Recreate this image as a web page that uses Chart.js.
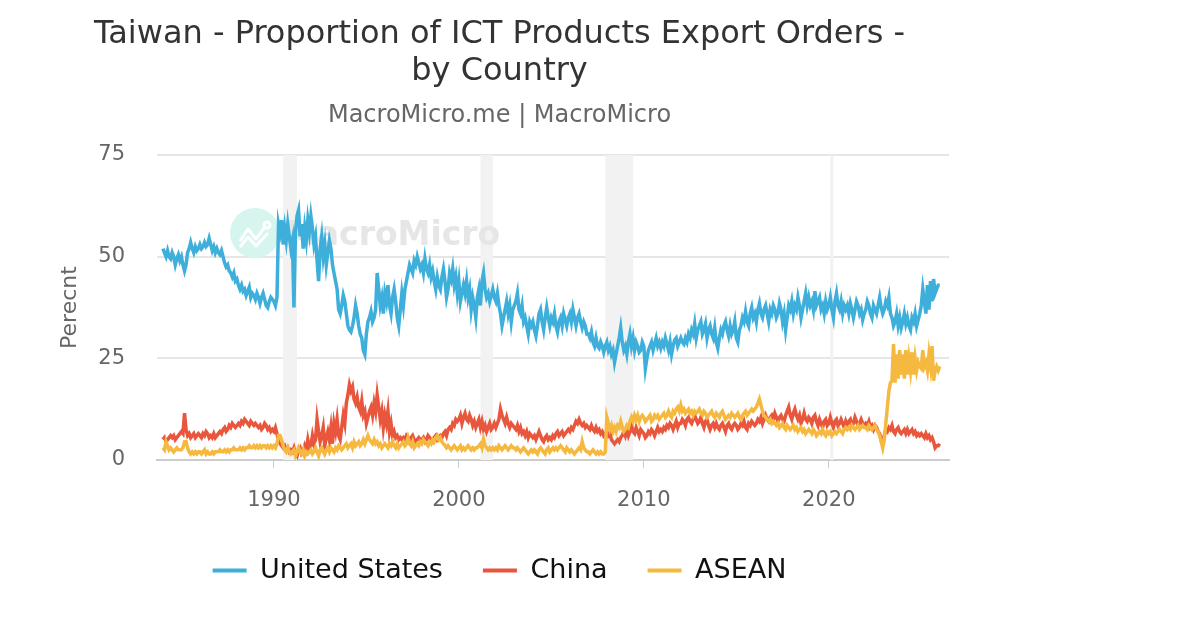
<!DOCTYPE html>
<html>
<head>
<meta charset="utf-8">
<script src="https://cdn.jsdelivr.net/npm/chart.js@4.4.1/dist/chart.umd.min.js"></script>
<style>
  html, body { margin: 0; padding: 0; background: #fff; }
  #wrap { width: 1000px; height: 630px; }
</style>
</head>
<body>
<div id="wrap"><canvas id="chart" width="1000" height="630"></canvas></div>
<script>
// monthly data, Jan 1984 .. Jan 2026 (one row per year)
const startYear = 1984;

const unitedStates = [
  52, 51, 50, 51.5, 50, 49.5, 51, 50, 48, 49.5, 50.5, 49,
  50, 48, 46.5, 48, 51, 52, 53.5, 52, 51, 52.5, 51.5, 52,
  53, 52, 52.5, 53.5, 52.5, 53, 54.5, 53, 51.5, 52.5, 51, 52,
  51, 50.5, 51.5, 50, 48.5, 47.5, 48, 46.5, 46, 45, 46, 44,
  44.5, 43, 42, 43, 41.5, 42, 40.5, 41.5, 42.5, 40, 41, 40.5,
  39.5, 41, 40, 38.5, 40, 41, 39.5, 38, 37.5, 39, 40, 39.5,
  39, 38, 40, 58, 56, 59, 53, 57, 54, 58, 55, 52,
  54, 37.5, 56, 60, 61.5, 55, 58, 52, 57, 54, 59, 56,
  60, 57, 53, 55, 49, 44, 52, 55, 50, 53, 48, 51,
  54, 52, 48, 46, 44, 42, 37, 36, 38, 40.5, 39, 36,
  33, 32, 31.5, 33, 35, 38, 36, 33, 31, 30, 27, 26,
  31, 34, 35, 36.5, 34, 35, 37, 46, 42, 38, 40, 36,
  41, 39, 43, 38, 36, 40, 42, 39, 35, 33, 37, 41,
  38, 42, 44, 46, 48, 47, 46, 49, 48, 50, 48.5, 47,
  48, 46, 49.5, 47, 46, 48, 45, 46.5, 44, 42, 45, 43,
  42, 45, 47, 44, 40, 42, 46, 44.5, 47, 43, 45, 41,
  44, 39, 41, 43, 41, 44, 40, 42, 37, 40, 38, 35,
  40, 42, 38, 44, 46, 42, 40, 41, 39, 40.5, 42, 40,
  39, 41, 38, 36, 33, 35, 37, 39, 36, 38, 34, 37,
  38, 39, 41, 37, 36, 38, 34, 35, 33, 31, 34, 33,
  34, 32, 30.5, 33, 36, 37, 34, 32, 35, 37.5, 35, 33,
  35, 34, 36, 33, 31.5, 34, 35, 33, 36, 34.5, 33, 35,
  36, 34, 37, 35, 33, 35, 36, 34, 32.5, 34, 33, 31,
  31, 30, 31.5, 29, 28, 30, 28, 27.5, 29, 28, 26.5, 28,
  29, 27, 28, 26, 27, 24, 26, 28, 30, 32.5, 29, 27,
  28, 26, 29, 31, 28, 30, 27, 29, 28, 26.5, 27, 29,
  28, 22.5, 25, 27, 28, 29, 27, 28.5, 30, 28, 29, 27.5,
  29, 28, 30, 28.5, 27, 29, 26, 28, 29.5, 30, 28, 29,
  30, 29, 28.5, 30, 29, 31, 30, 32, 31, 33.5, 30, 32,
  33, 34, 31, 32, 33.5, 30, 32, 33, 31, 30, 32.5, 29,
  27.5, 30, 32, 31, 33, 34, 32, 30.5, 33, 31, 32, 34,
  30, 29, 32, 33, 35, 34, 36.5, 34, 33, 36, 37.5, 35,
  36, 34, 37, 38.5, 36, 35, 37, 38, 36, 34, 37, 36,
  38, 37, 35, 36, 38.5, 37, 34, 36, 32, 35, 38, 37,
  39, 36, 38, 37, 40, 38, 35, 37, 39, 41, 38, 40,
  38, 39, 37, 41.5, 38, 39, 40, 37, 38, 36, 39, 37,
  38, 40, 37, 35, 39, 41, 38, 37, 39, 36, 38, 37,
  38, 36, 38.5, 37, 35, 37, 39, 38, 36, 37, 34.5, 36,
  37, 39, 38, 36, 35, 38, 37, 36, 38, 40, 37.5, 36,
  37, 39, 38, 40, 36, 35, 33, 34, 36, 33, 35, 32.5,
  34, 36, 33.5, 35, 33, 32, 35, 34, 36, 33, 34.5, 36,
  38, 42, 39, 36, 43, 37, 44, 39, 44.5, 41, 42, 43,
  43
];

const china = [
  5, 5.5, 4.5, 5, 5.5, 6, 5.5, 6, 5, 5.5, 6, 6.5,
  7, 6.5, 11.5, 7.5, 6, 6.5, 5.5, 6, 6.5, 5.5, 6, 6.5,
  6, 5.5, 6.5, 6, 7, 6.5, 5.5, 6, 5.5, 6.5, 5.5, 6,
  6.5, 7, 6.5, 7.5, 8, 7, 7.5, 8.5, 8, 9, 8.5, 8,
  8.5, 9, 8.5, 9.5, 9, 10, 9.5, 9, 8.5, 9.5, 9, 8.5,
  9, 8.5, 8, 8.5, 7.5, 8, 9, 8.5, 7.5, 8, 7, 7.5,
  7, 8, 6.5, 4.5, 4, 3.5, 3, 3.5, 2.5, 3, 2, 2.5,
  2, 3, 1.5, 1, 2.5, 3, 1.5, 2, 3.5, 2.5, 5, 3,
  3.5, 6, 4, 5, 10, 7, 4.5, 6, 8, 3.5, 5.5, 7,
  5, 8, 4, 9, 7, 10, 6, 5, 8, 11, 9, 14,
  16, 18.5, 17, 18, 15, 14, 15.5, 13, 12, 14.5, 11, 12,
  9, 10.5, 12, 13, 11, 14, 12, 16, 13, 10, 12, 8,
  11, 9, 12, 7, 9, 6, 7, 5.5, 6, 5, 5.5, 5,
  5.5, 5, 6, 5.5, 4.5, 5.5, 6, 5, 4.5, 5, 5.5, 5,
  5, 5.5, 4.5, 5, 6, 5.5, 5, 4.5, 5.5, 6, 5, 5.5,
  6, 5.5, 6.5, 7, 6, 7.5, 8, 7.5, 9, 8.5, 10, 9.5,
  10, 11, 9, 10.5, 11.5, 10, 9.5, 11, 10, 8.5, 9.5, 8,
  9, 10, 8, 9.5, 7.5, 8.5, 7, 8, 9, 7.5, 8, 9,
  8, 9, 10, 12.5, 11, 10, 9, 10.5, 9, 8, 9, 8.5,
  8, 7.5, 8.5, 7, 8, 6.5, 7, 6, 7, 5.5, 6.5, 6,
  5.5, 6, 5, 6, 7, 6, 5, 4.5, 5.5, 6, 5, 5.5,
  5, 6, 5.5, 6.5, 7, 6, 6.5, 7, 6, 6.5, 7, 7.5,
  7, 8, 7.5, 8.5, 9.5, 9, 10, 9, 8.5, 9, 8, 8.5,
  8, 7.5, 8.5, 7.5, 7, 8, 7, 7.5, 6.5, 7, 6, 6.5,
  7, 6, 6.5, 5, 4.5, 4, 4.5, 5, 4.5, 5.5, 6, 7,
  6, 7.5, 6, 7, 8.5, 7, 6.5, 8, 7, 6, 7.5, 7,
  6.5, 5.5, 6, 7, 6.5, 7.5, 7, 6, 7, 8, 7, 7.5,
  7, 8, 7.5, 8.5, 8, 9, 8.5, 7.5, 8.5, 9.5, 8, 9,
  9, 10, 9.5, 8.5, 10, 10.5, 9.5, 9, 10, 11, 10, 9,
  9.5, 10.5, 9, 8, 9.5, 10, 8.5, 7.5, 8.5, 9, 8, 9,
  8, 7.5, 8.5, 9, 8, 7, 8.5, 9, 8, 7.5, 8.5, 9,
  8.5, 7.5, 8, 9, 8.5, 9.5, 8, 7.5, 9, 8.5, 9.5, 9,
  8.5, 9, 10, 9.5, 10.5, 9, 10, 11, 10, 9.5, 10.5, 11,
  10, 11.5, 10.5, 9.5, 10.5, 11, 10, 9.5, 11, 12, 13, 11,
  10, 11.5, 12.5, 11, 10, 11, 9, 10, 11.5, 10, 9.5, 10.5,
  10, 9, 10.5, 11, 9.5, 8.5, 10, 9, 8, 9.5, 10, 8.5,
  9, 10.5, 9, 8, 9.5, 10, 8.5, 9, 10, 9, 8, 9.5,
  8.5, 9.5, 10, 8.5, 9, 10.5, 9.5, 8.5, 9, 10, 9, 8.5,
  9, 8.5, 9.5, 8, 8.5, 7.5, 8.5, 8, 7, 6.5, 5, 4,
  6, 7.5, 7, 8, 7.5, 8.5, 7, 6.5, 7.5, 8, 7, 6.5,
  7, 7.5, 6.5, 7.5, 6.5, 7, 7.5, 6.5, 7, 6, 6.5, 6,
  6.5, 6, 5.5, 6.5, 5.5, 6, 5, 5.5, 4.5, 3, 3.5, 3.5,
  4
];

const asean = [
  3, 2.5, 4.5, 3.5, 2.5, 3, 2.5, 2, 2.5, 3, 2.5, 2.5,
  2.5, 3, 4.5, 4.5, 3, 2, 1.5, 2, 1.5, 2, 1.5, 2,
  2, 1.5, 2, 2.5, 1.5, 2, 1.5, 1.5, 2, 1.5, 2, 2,
  2, 2.5, 2, 2, 2.5, 2, 2.5, 2, 2.5, 2.5, 3, 2.5,
  2.5, 2.5, 3, 2.5, 3, 2.5, 3, 3, 3.5, 3, 3, 3.5,
  3, 3.5, 3, 3.5, 3, 3.5, 3.5, 3, 3.5, 3, 3.5, 3,
  3.5, 3, 4, 6, 6, 5, 3.5, 2.5, 2, 3, 2, 1.5,
  2, 2.5, 1, 2, 3, 2, 1.5, 2.5, 1, 2, 1.5, 2,
  2.5, 1.5, 2, 3, 2, 1, 2.5, 3, 2, 1.5, 2.5, 3,
  2, 3, 2.5, 2, 3, 2.5, 3.5, 3, 2.5, 3, 3.5, 4,
  3, 3.5, 4, 3, 4.5, 3.5, 4, 4.5, 3.5, 4, 5, 4,
  5, 6, 5, 4.5, 4, 5, 4, 4.5, 3.5, 4, 3, 3.5,
  4, 3.5, 3, 4, 3.5, 4.5, 3.5, 3, 4, 3, 3.5, 4,
  4.5, 3.5, 4, 5.5, 4, 3.5, 4.5, 3, 3.5, 4, 3.5, 4.5,
  4, 5, 4.5, 4, 3.5, 4.5, 4, 5, 4.5, 5.5, 6, 5,
  5.5, 4.5, 4, 3.5, 3, 3.5, 3, 2.5, 3, 3.5, 3, 2.5,
  3, 3.5, 2.5, 3, 2.5, 3, 3.5, 3, 2.5, 3, 2.5, 3,
  3, 3.5, 4, 3, 5, 3.5, 3, 2.5, 3, 2.5, 3, 2.5,
  3, 2.5, 3.5, 3, 2.5, 3, 3.5, 3, 2.5, 3, 3.5, 3,
  3, 2.5, 3, 2.5, 2, 2.5, 3, 2.5, 2, 1.5, 2, 2.5,
  2, 2.5, 2, 1.5, 2.5, 3, 2.5, 2, 1.5, 2.5, 3, 2,
  2.5, 3, 2.5, 3, 2.5, 3, 3.5, 3, 2.5, 2, 3, 2.5,
  2, 2.5, 2, 1.5, 2, 2.5, 3, 2.5, 4.5, 3, 2.5, 2,
  2, 1.5, 2, 2.5, 2, 1.5, 2, 1.5, 2, 1.5, 1.5, 2,
  10.5, 9, 7.5, 8.5, 7, 8, 7, 8.5, 8, 9.5, 8, 7,
  7.5, 8.5, 8, 9.5, 10.5, 9.5, 11, 10, 11, 9.5, 10.5, 11,
  10.5, 9.5, 10, 10.5, 11, 9.5, 10, 11, 10.5, 11, 10, 10.5,
  11, 11.5, 10.5, 11, 12, 11, 10.5, 12, 11.5, 12.5, 13, 12,
  13.5, 12, 12.5, 11.5, 12, 12.5, 11.5, 12, 11, 12, 11.5, 12,
  12.5, 11.5, 11, 12, 11.5, 10.5, 11, 11.5, 12, 11, 10.5, 11.5,
  11, 10.5, 11.5, 12, 11, 10, 10.5, 11, 10.5, 11.5, 11, 10.5,
  11, 11.5, 10.5, 10, 11, 11.5, 12, 11, 11.5, 12, 12.5, 12,
  12.5, 13, 14, 15, 13.5, 12, 11, 10.5, 10, 9.5, 10, 9,
  9.5, 9, 8.5, 9, 8, 8.5, 9, 8, 7.5, 8.5, 8, 7.5,
  8, 8.5, 7.5, 8, 7, 7.5, 8, 7, 7.5, 6.5, 7, 7.5,
  7, 6.5, 7.5, 7, 6, 6.5, 7, 6.5, 7.5, 6.5, 6, 7,
  6.5, 7, 6, 6.5, 7, 6.5, 7, 7.5, 7, 6.5, 7.5, 8,
  7.5, 8, 7.5, 8.5, 8, 7.5, 8, 8.5, 7.5, 8, 8.5, 8,
  8, 7.5, 8.5, 8, 7.5, 8, 8.5, 7.5, 7, 6, 4.5, 3,
  5, 9, 13, 17, 19, 19.5, 28.5, 19, 26, 20, 27, 21,
  26, 20, 27, 21, 25, 22, 26.5, 21, 25, 22, 24, 23,
  22.5, 27, 23, 24, 22, 26, 23, 28, 19.5, 22, 23, 22,
  23
];

const seriesNames = ["United States", "China", "ASEAN"];
const seriesColors = ["#3eafda", "#e8573d", "#f5b93f"];
const yTicks = [0, 25, 50, 75];
const xTicks = [1990, 2000, 2010, 2020];
// US recession periods (decimal years) shown as grey bands
const recessions = [
  [1990.5, 1991.25],
  [2001.17, 2001.84],
  [2007.92, 2009.42],
  [2020.08, 2020.25],
];

const FONT = "'DejaVu Sans', Verdana, sans-serif";

function toPoints(values) {
  return values.map((v, i) => ({ x: startYear + i / 12, y: v }));
}

/** grey recession bands + watermark behind the lines */
const backdropPlugin = {
  id: "backdrop",
  beforeDatasetsDraw(chart) {
    const { ctx, chartArea, scales } = chart;
    ctx.save();
    ctx.fillStyle = "#f2f2f2";
    recessions.forEach(([from, to]) => {
      const x1 = scales.x.getPixelForValue(from);
      const x2 = scales.x.getPixelForValue(to);
      ctx.fillRect(x1, chartArea.top, x2 - x1, chartArea.bottom - chartArea.top);
    });

    // watermark
    const cx = 255, cy = 233;
    ctx.fillStyle = "#d6f5ef";
    ctx.beginPath();
    ctx.arc(cx, cy, 25, 0, Math.PI * 2);
    ctx.fill();
    ctx.strokeStyle = "#ffffff";
    ctx.lineWidth = 3;
    ctx.lineJoin = "round";
    ctx.beginPath();
    ctx.moveTo(cx - 15, cy + 8);
    ctx.lineTo(cx - 7, cy - 4);
    ctx.lineTo(cx + 1, cy + 6);
    ctx.lineTo(cx + 10, cy - 6);
    ctx.stroke();
    ctx.beginPath();
    ctx.moveTo(cx - 15, cy + 14);
    ctx.lineTo(cx - 7, cy + 4);
    ctx.lineTo(cx + 1, cy + 13);
    ctx.lineTo(cx + 13, cy);
    ctx.stroke();
    ctx.beginPath();
    ctx.arc(cx + 12, cy - 8, 3, 0, Math.PI * 2);
    ctx.stroke();

    ctx.fillStyle = "#e6e6e6";
    ctx.font = "bold 33px " + FONT;
    ctx.textBaseline = "middle";
    ctx.fillText("MacroMicro", 284, cy + 3);
    ctx.restore();
  },
};

const datasets = [unitedStates, china, asean].map((values, i) => ({
  label: seriesNames[i],
  data: toPoints(values),
  borderColor: seriesColors[i],
  backgroundColor: seriesColors[i],
  borderWidth: 3.5,
  pointRadius: 0,
  tension: 0,
  order: 2 - i, // later series drawn on top
}));

new Chart(document.getElementById("chart"), {
  type: "line",
  data: { datasets },
  plugins: [backdropPlugin],
  options: {
    responsive: false,
    animation: false,
    events: [],
    layout: { padding: { left: 50, right: 51, top: 0, bottom: 36 } },
    plugins: {
      title: {
        display: true,
        text: ["Taiwan - Proportion of ICT Products Export Orders -", "by Country"],
        color: "#333333",
        font: { family: FONT, size: 32, weight: "normal", lineHeight: 1.16 },
        padding: { top: 16, bottom: 11 },
      },
      subtitle: {
        display: true,
        text: "MacroMicro.me | MacroMicro",
        color: "#666666",
        font: { family: FONT, size: 24, weight: "normal", lineHeight: 1.2 },
        padding: { top: 0, bottom: 25 },
      },
      legend: {
        display: true,
        position: "bottom",
        labels: {
          color: "#111111",
          font: { family: FONT, size: 27 },
          boxWidth: 34,
          boxHeight: 4,
          padding: 40,
          sort: (a, b) => a.datasetIndex - b.datasetIndex,
          // plain flat line swatch, no stroke around it
          generateLabels: (chart) =>
            Chart.defaults.plugins.legend.labels
              .generateLabels(chart)
              .map((item) => ({ ...item, lineWidth: 0 })),
        },
      },
      tooltip: { enabled: false },
    },
    scales: {
      x: {
        type: "linear",
        min: 1983.68,
        max: 2026.5,
        afterBuildTicks: (scale) => {
          scale.ticks = xTicks.map((v) => ({ value: v }));
        },
        afterFit: (scale) => {
          scale.height = 57;
        },
        ticks: {
          color: "#666666",
          font: { family: FONT, size: 21 },
          padding: 20,
          maxRotation: 0,
          callback: (v) => String(v),
        },
        grid: {
          drawOnChartArea: false,
          drawTicks: true,
          tickLength: 8,
          color: "#cccccc",
        },
        border: { display: true, color: "#cccccc", width: 2 },
      },
      y: {
        min: 0,
        max: 75,
        afterBuildTicks: (scale) => {
          scale.ticks = yTicks.map((v) => ({ value: v }));
        },
        afterFit: (scale) => {
          scale.width = 107;
        },
        title: {
          display: true,
          text: "Perecnt",
          color: "#666666",
          font: { family: FONT, size: 22, lineHeight: 1.2 },
          padding: { top: 7, bottom: 0 },
        },
        ticks: {
          color: "#666666",
          font: { family: FONT, size: 21 },
          padding: 32,
        },
        grid: { color: "#e6e6e6", drawTicks: false, lineWidth: 2 },
        border: { display: false },
      },
    },
  },
});
</script>
</body>
</html>
